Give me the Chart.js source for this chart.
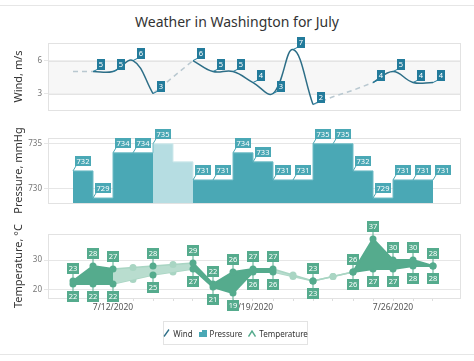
<!DOCTYPE html>
<html>
<head>
<meta charset="utf-8">
<script src="https://cdn.jsdelivr.net/npm/chart.js@4.4.1/dist/chart.umd.min.js"></script>
<style>
  body { margin: 0; background: #fff; font-family: 'Segoe UI', 'Noto Sans', sans-serif; }
  #wrap { position: relative; width: 474px; height: 361px; overflow: hidden; }
  canvas { position: absolute; left: 0; }
  .rule { position: absolute; left: 0; width: 474px; height: 1px; background: #e6e6e6; }
  #title { position: absolute; left: 0; top: 12px; width: 474px; text-align: center; font-size: 14px; color: #333; }
  #legend { position: absolute; left: 163px; top: 321px; width: 145px; height: 24px; border: 1px solid #e3e3e3;
            box-sizing: border-box; font-size: 8px; color: #333; display: flex; align-items: center; justify-content: center; gap: 6px; }
  #legend span { display: flex; align-items: center; gap: 3px; }
</style>
</head>
<body>
<div id="wrap">
  <div class="rule" style="top:5px"></div>
  <div id="title">Weather in Washington for July</div>
  <canvas id="wind" width="474" height="105" style="top:30px"></canvas>
  <canvas id="pressure" width="474" height="95" style="top:128px"></canvas>
  <canvas id="temperature" width="474" height="100" style="top:218px"></canvas>
  <div id="legend">
    <span><svg width="7" height="8"><line x1="1" y1="7.5" x2="6" y2="0.5" stroke="#2d6e87" stroke-width="1.3"/></svg>Wind</span>
    <span><svg width="8" height="8"><path d="M0 8 V3 H3 V1 H8 V8 Z" fill="#4aa8b5"/></svg>Pressure</span>
    <span><svg width="8" height="7"><path d="M0.5 6.5 L4 1 L7.5 6.5" fill="none" stroke="#55ab8d" stroke-width="1.4"/></svg>Temperature</span>
  </div>
  <div class="rule" style="top:354px"></div>
</div>
<script>
// 7월 날짜 (일)
const days = [10, 11, 12, 13, 14, 15, 16, 17, 18, 19, 20, 21, 22, 23, 24, 25, 26, 27, 28];

// 풍속 (m/s), null = 측정 없음
const windSpeed =    [null, 5, 5, 6, 3, null, 6, 5, 5, 4, 3, 7, 2, null, null, 4, 5, 4, 4];
// 빈 구간을 잇는 점선 값
const windEstimate = [5, 5, null, null, 3, 4.5, 6, null, null, null, null, null, 2, 2.7, 3.3, 4, null, null, null];

// 기압 (mmHg)
const pressure =         [732, 729, 734, 734, 735, null, 731, 731, 734, 733, 731, 731, 735, 735, 732, 729, 731, 731, 731];
const pressureEstimate = [null, null, null, null, 735, 733, 731, null, null, null, null, null, null, null, null, null, null, null, null];

// 기온 (°C) 최고/최저
const tempHigh = [23, 28, 27, null, 28, null, 29, 22, 26, 27, 27, null, 23, null, 26, 37, 30, 30, 28];
const tempLow =  [22, 22, 22, null, 25, null, 27, 21, 19, 26, 26, null, 23, null, 26, 27, 27, 28, 28];
const tempHighEstimate = [null, null, 27, 27.5, 28, 28.5, 29, null, null, null, 27, 25, 23, 24.5, 26, null, null, null, null];
const tempLowEstimate =  [null, null, 22, 23.5, 25, 26, 27, null, null, null, 26, 24.5, 23, 24.5, 26, null, null, null, null];

// 축 눈금
const windTicks = [3, 6];
const pressureTicks = [730, 735];
const temperatureTicks = [20, 30];
const dateTickDays = [12, 19, 26];
const dateTickLabels = ['7/12/2020', '7/19/2020', '7/26/2020'];

const WIND = '#2d6e87', WIND_BOX = '#237b9b', WIND_GAP = '#b9c8d0';
const PRES = '#4aa8b5', PRES_LIGHT = '#b6dde2';
const TEMP = '#55ab8d', TEMP_LIGHT = '#b9ddcf', TEMP_POINT_LIGHT = '#a9d5c3';
const FONT = "'Segoe UI', 'Noto Sans', sans-serif";

// 패널 테두리 + 배경 띠
const paneFrame = {
  id: 'paneFrame',
  beforeDatasetsDraw(chart, args, opts) {
    const {ctx, chartArea: a} = chart;
    ctx.save();
    if (opts.band) {
      const y = chart.scales.y;
      const top = y.getPixelForValue(opts.band[1]);
      const bottom = y.getPixelForValue(opts.band[0]);
      ctx.fillStyle = '#f7f7f7';
      ctx.fillRect(a.left, top, a.right - a.left, bottom - top);
      ctx.strokeStyle = '#e4e4e4';
      ctx.lineWidth = 1;
      [top, bottom].forEach(p => {
        ctx.beginPath(); ctx.moveTo(a.left, Math.round(p) + 0.5); ctx.lineTo(a.right, Math.round(p) + 0.5); ctx.stroke();
      });
    }
    ctx.strokeStyle = '#e2e2e2';
    ctx.lineWidth = 1;
    ctx.strokeRect(Math.round(a.left) + 0.5, Math.round(a.top) + 0.5, Math.round(a.right - a.left), Math.round(a.bottom - a.top));
    ctx.restore();
  }
};

// 값 라벨 박스
const valueLabels = {
  id: 'valueLabels',
  afterDatasetsDraw(chart) {
    const ctx = chart.ctx;
    ctx.save();
    ctx.font = '7.5px ' + FONT;
    ctx.textAlign = 'center';
    ctx.textBaseline = 'middle';
    chart.data.datasets.forEach((ds, di) => {
      if (!ds.labelStyle) return;
      const meta = chart.getDatasetMeta(di);
      meta.data.forEach((pt, i) => {
        const v = ds.data[i];
        if (v == null) return;
        const text = String(v);
        const w = Math.ceil(ctx.measureText(text).width) + 3;
        const h = ds.labelStyle === 'pressure' ? 10 : 11;
        const x = pt.x, y = pt.y;
        let bx, by, lx, ly;
        if (ds.labelStyle === 'wind') { bx = x + 4; by = y - 2 - h; lx = x + 4; ly = y - 2; }
        else if (ds.labelStyle === 'pressure') { bx = x + 2; by = y - 5 - h; lx = x + 3; ly = y - 5; }
        else if (ds.labelStyle === 'high') { bx = x - w / 2; by = y - 7 - h; lx = x; ly = y - 7; }
        else { bx = x - w / 2; by = y + 7; lx = x; ly = y + 7; }
        ctx.strokeStyle = ds.labelColor;
        ctx.lineWidth = 1;
        ctx.beginPath(); ctx.moveTo(x, y); ctx.lineTo(lx, ly); ctx.stroke();
        ctx.fillStyle = ds.labelColor;
        ctx.fillRect(Math.round(bx), Math.round(by), w, h);
        ctx.fillStyle = '#fff';
        ctx.fillText(text, Math.round(bx) + w / 2, Math.round(by) + h / 2 + 0.5);
      });
    });
    ctx.restore();
  }
};

function yAxis(title, min, max, ticks) {
  return {
    min: min, max: max,
    afterFit: s => { s.width = 48; },
    afterBuildTicks: s => { s.ticks = ticks.map(v => ({value: v})); },
    grid: { color: '#e6e6e6', tickLength: 4, drawOnChartArea: true },
    border: { display: false },
    ticks: { color: '#767676', font: {family: FONT, size: 8}, padding: 2 },
    title: { display: true, text: title, color: '#333', font: {family: FONT, size: 11}, padding: {top: 12, bottom: 0} }
  };
}

function xAxis(show) {
  return {
    type: 'linear', min: 8.75, max: 29.35,
    display: show,
    afterFit: s => { s.height = 14; },
    afterBuildTicks: s => { s.ticks = days.map(v => ({value: v})); },
    grid: { drawOnChartArea: false, color: '#dddddd', tickLength: 3 },
    border: { display: false },
    ticks: {
      autoSkip: false, maxRotation: 0, padding: 1,
      color: '#555', font: {family: FONT, size: 8.5},
      callback: v => { const k = dateTickDays.indexOf(v); return k >= 0 ? dateTickLabels[k] : ''; }
    }
  };
}

function baseOptions(padTop, padBottom, yCfg, showX, band) {
  return {
    responsive: false, animation: false, devicePixelRatio: 1,
    layout: { padding: {top: padTop, bottom: padBottom, left: 0, right: 14} },
    plugins: { legend: {display: false}, tooltip: {enabled: false}, paneFrame: {band: band} },
    scales: { x: xAxis(showX), y: yCfg }
  };
}

// 풍속 차트
new Chart(document.getElementById('wind'), {
  type: 'line',
  data: {
    labels: days,
    datasets: [
      { data: windSpeed, borderColor: WIND, borderWidth: 1.5, tension: 0.4, pointRadius: 0,
        labelStyle: 'wind', labelColor: WIND_BOX },
      { data: windEstimate, borderColor: WIND_GAP, borderWidth: 1.5, borderDash: [5, 4], tension: 0, pointRadius: 0 }
    ]
  },
  options: baseOptions(13, 11, yAxis('Wind, m/s', 1.5, 7.6, windTicks), false, [3, 6]),
  plugins: [paneFrame, valueLabels]
});

// 기압 차트
new Chart(document.getElementById('pressure'), {
  type: 'line',
  data: {
    labels: days,
    datasets: [
      { data: pressure, stepped: 'before', borderColor: '#6fbcc6', borderWidth: 1, backgroundColor: PRES,
        fill: 'start', pointRadius: 0, labelStyle: 'pressure', labelColor: PRES },
      { data: pressureEstimate, stepped: 'before', borderColor: '#cfe9ec', borderWidth: 1, backgroundColor: PRES_LIGHT,
        fill: 'start', pointRadius: 0 }
    ]
  },
  options: baseOptions(10, 6, yAxis('Pressure, mmHg', 728.45, 735.64, pressureTicks), false),
  plugins: [paneFrame, valueLabels]
});

// 기온 차트
const lightPointRadius = ctx => (tempHigh[ctx.dataIndex] == null ? 3.5 : 0);
new Chart(document.getElementById('temperature'), {
  type: 'line',
  data: {
    labels: days,
    datasets: [
      { data: tempHigh, borderColor: TEMP, borderWidth: 2, backgroundColor: TEMP, fill: '+1',
        pointRadius: 3.5, pointBackgroundColor: TEMP, pointBorderWidth: 0, labelStyle: 'high', labelColor: TEMP },
      { data: tempLow, borderColor: TEMP, borderWidth: 2, backgroundColor: TEMP, fill: false,
        pointRadius: 3.5, pointBackgroundColor: TEMP, pointBorderWidth: 0, labelStyle: 'low', labelColor: TEMP },
      { data: tempHighEstimate, borderColor: TEMP_POINT_LIGHT, borderWidth: 1.5, backgroundColor: TEMP_LIGHT, fill: '+1',
        pointRadius: lightPointRadius, pointBackgroundColor: TEMP_POINT_LIGHT, pointBorderWidth: 0 },
      { data: tempLowEstimate, borderColor: TEMP_POINT_LIGHT, borderWidth: 1.5, fill: false,
        pointRadius: lightPointRadius, pointBackgroundColor: TEMP_POINT_LIGHT, pointBorderWidth: 0 }
    ]
  },
  options: baseOptions(16, 6, yAxis('Temperature, °C', 17.33, 38.67, temperatureTicks), true),
  plugins: [paneFrame, valueLabels]
});
</script>
</body>
</html>
